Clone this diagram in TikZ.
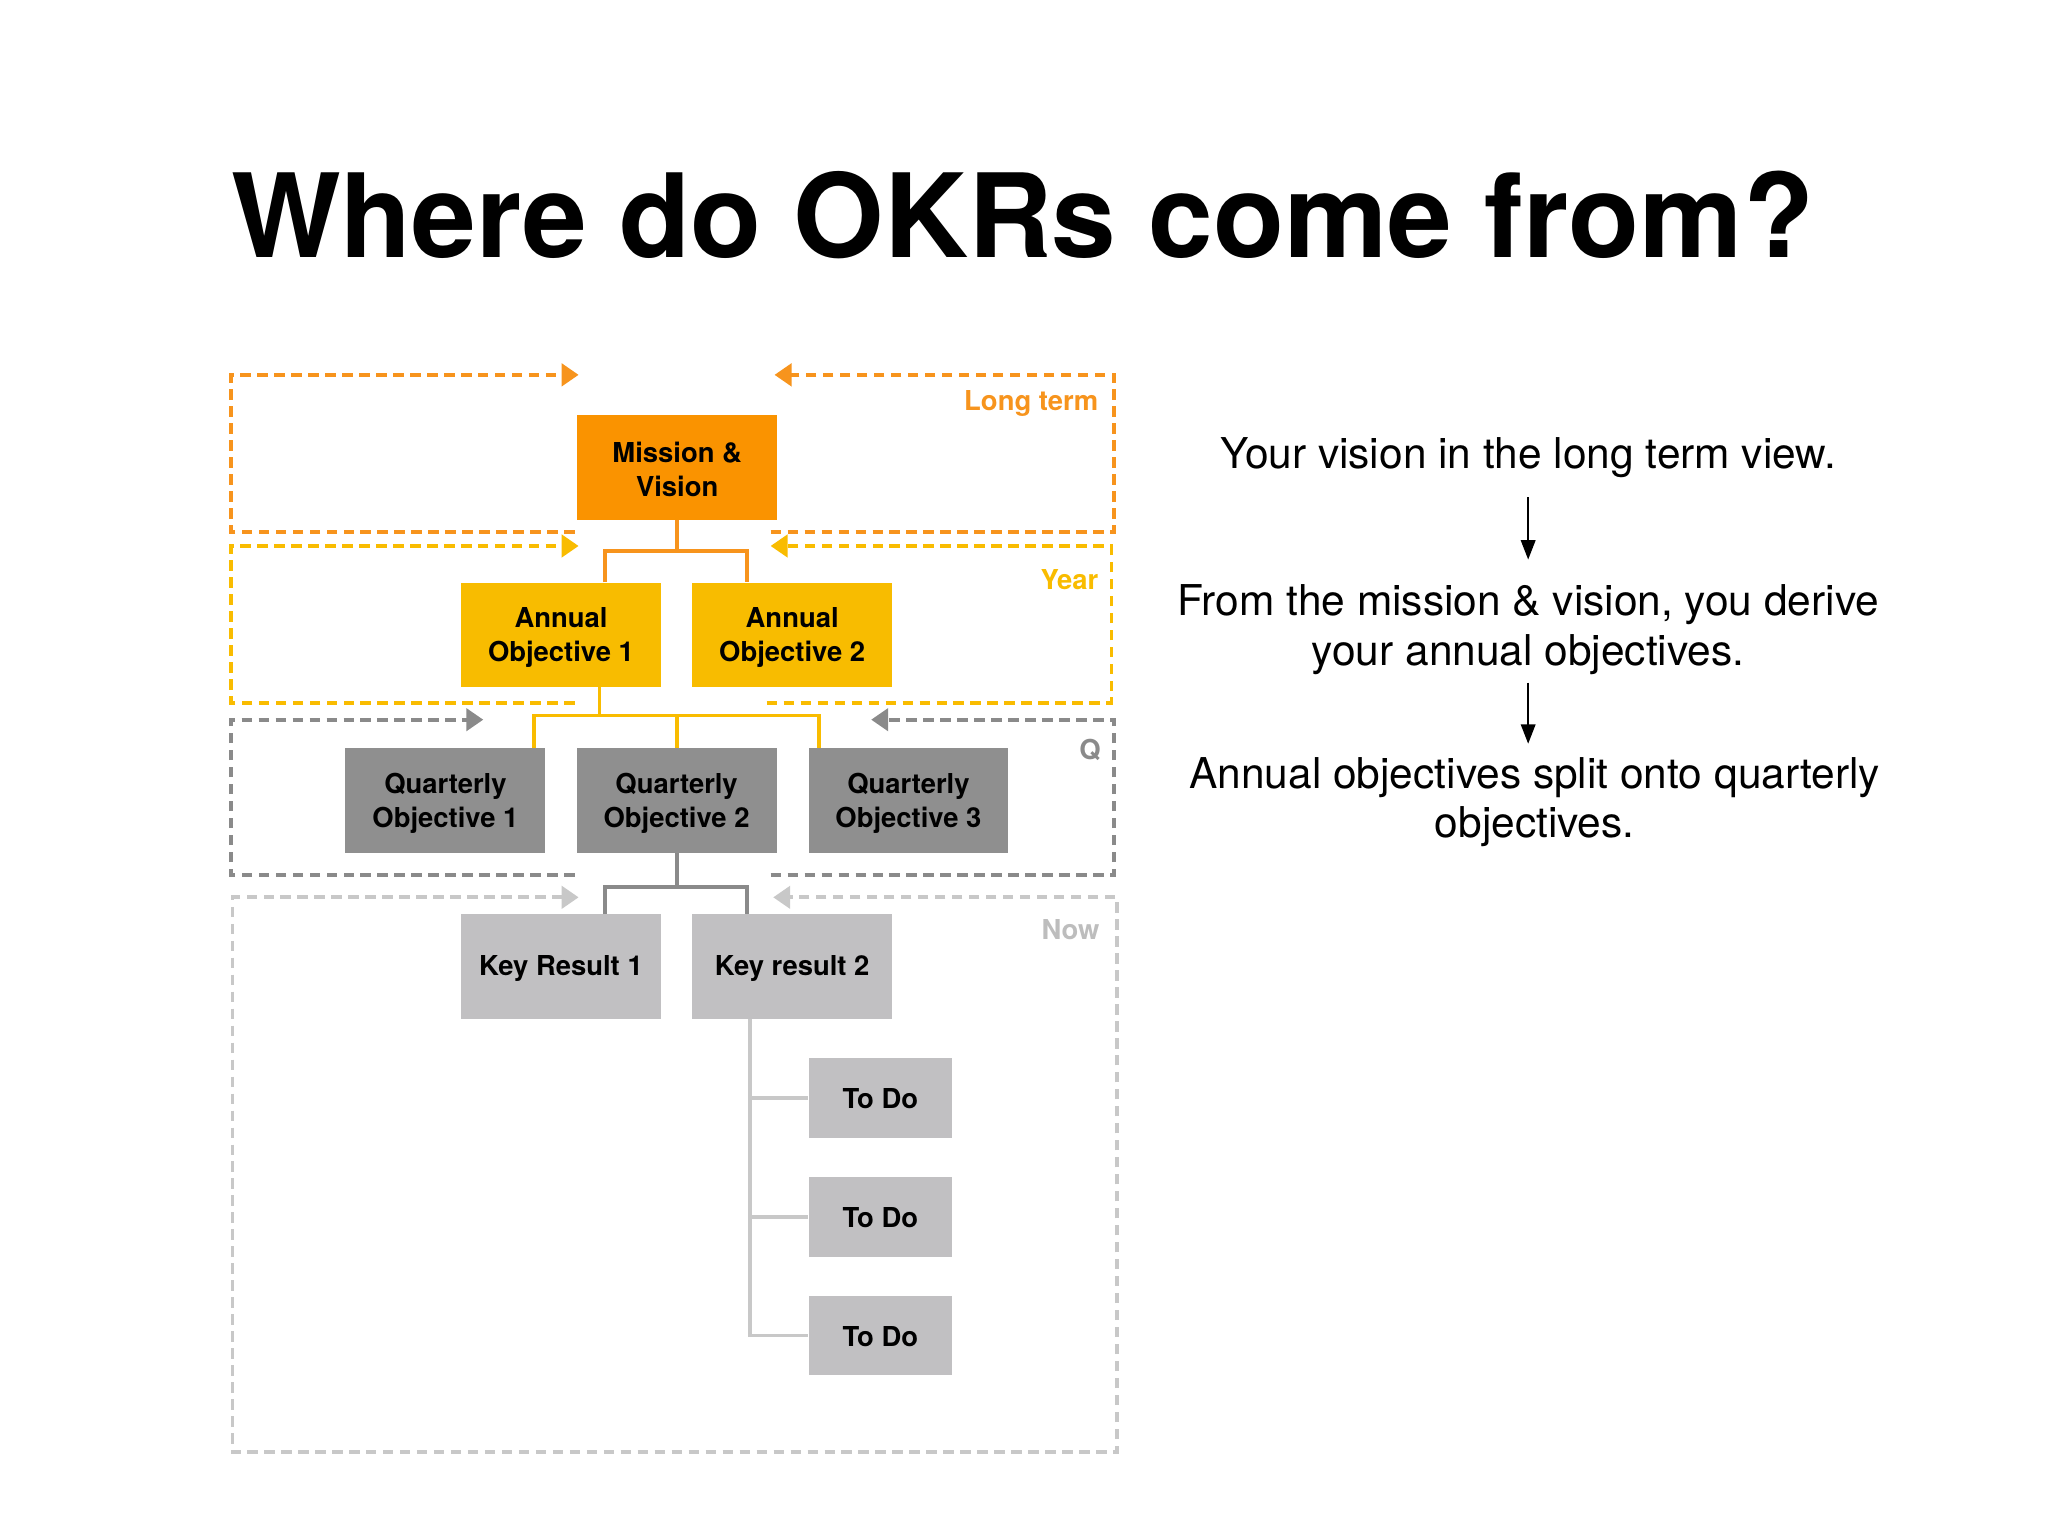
\documentclass[tikz,border=0pt]{standalone}
\usepackage{fontspec}
\setmainfont{TeX Gyre Heros}
\usetikzlibrary{arrows.meta}
\definecolor{ltorange}{HTML}{F7941D}
\definecolor{mvfill}{HTML}{FA9300}
\definecolor{yr}{HTML}{F9BC00}
\definecolor{aofill}{HTML}{F8BC00}
\definecolor{qline}{HTML}{8A8A8A}
\definecolor{qofill}{HTML}{8F8F8F}
\definecolor{nline}{HTML}{C8C8C8}
\definecolor{krfill}{HTML}{C1C0C2}
\definecolor{nowtext}{HTML}{BDBDBD}
\begin{document}
\begin{tikzpicture}[x=1pt,y=-1pt,
 frame/.style={line width=3pt, dash pattern=on 8pt off 5pt},
 tip/.style={-{Triangle[length=13pt,width=17pt]}},
 tips/.style={{Triangle[length=13pt,width=17pt]}-{Triangle[length=13pt,width=17pt]}},
 box/.style={inner sep=0pt, minimum width=153pt, minimum height=80pt, align=center, font=\fontsize{21}{26}\selectfont\bfseries, text=black},
 todo/.style={box, minimum width=110pt, minimum height=61pt, fill=krfill},
 lbl/.style={anchor=east, inner sep=0pt, font=\fontsize{21}{25}\selectfont\bfseries},
 conn/.style={line width=3pt},
 desc/.style={anchor=north, align=center, inner sep=0pt, font=\fontsize{32.5}{38}\selectfont},
 darr/.style={line width=2pt, -{Triangle[length=15pt,width=11pt]}}
]
\useasboundingbox[fill=white] (0,0) rectangle (1568,1176);

% title
\node[anchor=base, inner sep=0pt, font=\fontsize{89}{100}\selectfont\bfseries] (title) at (783,197) {Where do OKRs come from?};

% frames
\draw[frame, ltorange, tip] (440,407) -- (177,407) -- (177,287) -- (443,287);
\draw[frame, ltorange, tip] (590,407) -- (853,407) -- (853,287) -- (593,287);
\draw[frame, yr, tip] (440,538) -- (177,538) -- (177,418) -- (443,418);
\draw[frame, yr, tip] (587,538) -- (851,538) -- (851,418) -- (590,418);
\draw[frame, qline, tip] (440,670) -- (177,670) -- (177,551) -- (370,551);
\draw[frame, qline, tip] (590,670) -- (853,670) -- (853,551) -- (667,551);
\draw[frame, nline, tips] (443,687) -- (178,687) -- (178,1112) -- (855,1112) -- (855,687) -- (592,687);

% frame labels
\node[lbl, text=ltorange] (lLong) at (841,309) {Long term};
\node[lbl, text=yr] (lYear) at (841,444) {Year};
\node[lbl, text=qline] (lQ) at (843,574) {Q};
\node[lbl, text=nowtext] (lNow) at (842,712) {Now};

% boxes
\node[box, fill=mvfill] (M) at (518.5,358) {\rule{0pt}{19pt}Mission \&\\Vision};
\node[box, fill=aofill] (AO1) at (429.5,486) {\rule{0pt}{19pt}Annual\\Objective 1};
\node[box, fill=aofill] (AO2) at (606.5,486) {\rule{0pt}{19pt}Annual\\Objective 2};
\node[box, fill=qofill] (QO1) at (341,613) {\rule{0pt}{19pt}Quarterly\\Objective 1};
\node[box, fill=qofill] (QO2) at (518,613) {\rule{0pt}{19pt}Quarterly\\Objective 2};
\node[box, fill=qofill] (QO3) at (695.5,613) {\rule{0pt}{19pt}Quarterly\\Objective 3};
\node[box, fill=krfill] (KR1) at (429.5,740) {\rule{0pt}{19pt}Key Result 1};
\node[box, fill=krfill] (KR2) at (606.5,740) {\rule{0pt}{19pt}Key result 2};
\node[todo] (TD1) at (674,840.5) {\rule{0pt}{17pt}To Do};
\node[todo] (TD2) at (674,931.5) {\rule{0pt}{17pt}To Do};
\node[todo] (TD3) at (674,1022.5) {\rule{0pt}{17pt}To Do};

% connectors
\draw[conn, ltorange] (M.south) -- ++(0,24) coordinate (mj);
\draw[conn, ltorange] ([xshift=33.5pt]AO1.north) |- (mj) -| ([xshift=-34.5pt]AO2.north);
\draw[conn, yr] ([xshift=29.5pt]AO1.south) -- ++(0,22) coordinate (aj);
\draw[conn, yr] ([xshift=68pt]QO1.north) -- ++(0,-25) -| ([xshift=-68.5pt]QO3.north);
\draw[conn, yr] (aj -| QO2.north) -- (QO2.north);
\draw[conn, qline] (QO2.south) -- ++(0,26) coordinate (qj);
\draw[conn, qline] ([xshift=33.5pt]KR1.north) |- (qj) -| ([xshift=-34.5pt]KR2.north);
\draw[conn, nline] ([xshift=-32.5pt]KR2.south) |- (TD3.west);
\draw[conn, nline] ([xshift=-32.5pt]KR2.south |- TD1.west) -- (TD1.west);
\draw[conn, nline] ([xshift=-32.5pt]KR2.south |- TD2.west) -- (TD2.west);

% description
\node[desc] (t1) at (1170,334.5) {Your vision in the long term view.};
\node[desc] (t2) at (1170,447.5) {From the mission \& vision, you derive\\your annual objectives.};
\node[desc] (t3) at (1175,579.5) {Annual objectives split onto quarterly\\objectives.};
\draw[darr] ([yshift=-15pt]t1.south) -- ([yshift=19pt]t2.north);
\draw[darr] ([yshift=-6pt]t2.south -| t2.south) -- ([yshift=10pt]t3.north -| t2.south);
\end{tikzpicture}
\end{document}
